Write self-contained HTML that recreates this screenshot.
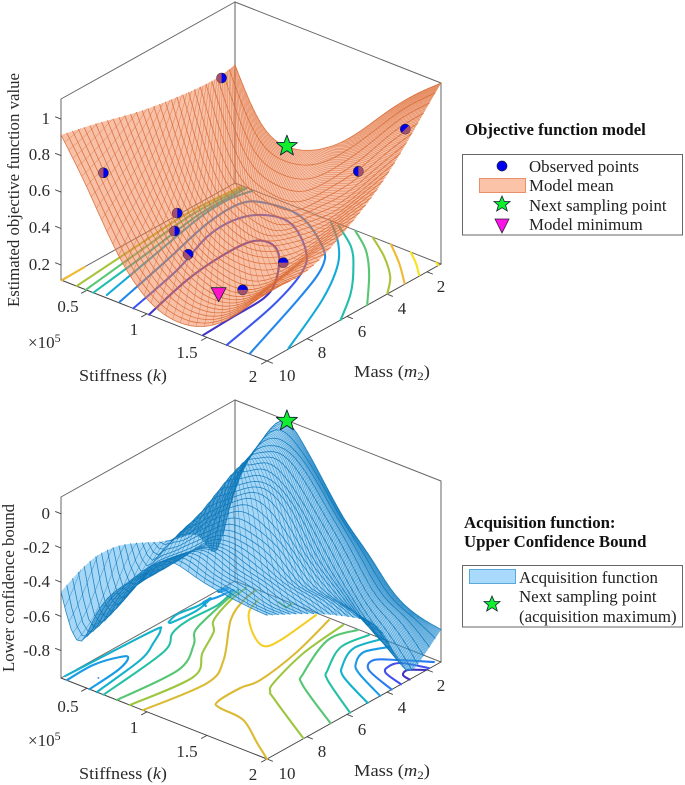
<!DOCTYPE html>
<html lang="en">
<head>
<meta charset="utf-8">
<title>Objective function model and acquisition function</title>
<style>
html,body{margin:0;padding:0;background:#fff;}
svg{display:block;filter:blur(.35px);}
text{font-family:"Liberation Serif",serif;font-size:17px;fill:#2b2b2b;}
.b{font-weight:bold;fill:#111;font-size:16.8px;}
.i{font-style:italic;}
.s{font-size:12px;}
.l{font-size:16.85px;fill:#222;}
</style>
</head>
<body>
<svg id="fig" xmlns="http://www.w3.org/2000/svg" width="685" height="785" viewBox="0 0 685 785">
  <g id="chart-top"></g>
  <g id="chart-low"></g>

  <g>
    <text transform="translate(19,307) rotate(-90)" textLength="234" lengthAdjust="spacingAndGlyphs">Estimated objective function value</text>
    <text x="50" y="124" text-anchor="end">1</text>
    <text x="50" y="160" text-anchor="end">0.8</text>
    <text x="50" y="196" text-anchor="end">0.6</text>
    <text x="50" y="233" text-anchor="end">0.4</text>
    <text x="50" y="270" text-anchor="end">0.2</text>
    <text x="68" y="312" text-anchor="middle">0.5</text>
    <text x="134" y="335" text-anchor="middle">1</text>
    <text x="187" y="358" text-anchor="middle">1.5</text>
    <text x="253" y="382" text-anchor="middle">2</text>
    <text x="28" y="348">×10<tspan class="s" dy="-6">5</tspan></text>
    <text x="79" y="381" textLength="88" lengthAdjust="spacingAndGlyphs">Stiffness (<tspan class="i">k</tspan>)</text>
    <text x="287" y="381" text-anchor="middle">10</text>
    <text x="322" y="358" text-anchor="middle">8</text>
    <text x="362" y="337" text-anchor="middle">6</text>
    <text x="402" y="314" text-anchor="middle">4</text>
    <text x="441" y="292" text-anchor="middle">2</text>
    <text x="354" y="377" textLength="76" lengthAdjust="spacingAndGlyphs">Mass (<tspan class="i">m</tspan><tspan class="s" dy="3">2</tspan><tspan dy="-3">)</tspan></text>
  </g>

  <g>
    <text transform="translate(14,672) rotate(-90)" textLength="168" lengthAdjust="spacingAndGlyphs">Lower confidence bound</text>
    <text x="50" y="519" text-anchor="end">0</text>
    <text x="50" y="553" text-anchor="end">-0.2</text>
    <text x="50" y="587" text-anchor="end">-0.4</text>
    <text x="50" y="622" text-anchor="end">-0.6</text>
    <text x="50" y="656" text-anchor="end">-0.8</text>
    <text x="68" y="712" text-anchor="middle">0.5</text>
    <text x="134" y="733" text-anchor="middle">1</text>
    <text x="187" y="757" text-anchor="middle">1.5</text>
    <text x="253" y="780" text-anchor="middle">2</text>
    <text x="28" y="746">×10<tspan class="s" dy="-6">5</tspan></text>
    <text x="79" y="779" textLength="88" lengthAdjust="spacingAndGlyphs">Stiffness (<tspan class="i">k</tspan>)</text>
    <text x="287" y="779" text-anchor="middle">10</text>
    <text x="322" y="757" text-anchor="middle">8</text>
    <text x="362" y="735" text-anchor="middle">6</text>
    <text x="402" y="713" text-anchor="middle">4</text>
    <text x="441" y="691" text-anchor="middle">2</text>
    <text x="354" y="776" textLength="76" lengthAdjust="spacingAndGlyphs">Mass (<tspan class="i">m</tspan><tspan class="s" dy="3">2</tspan><tspan dy="-3">)</tspan></text>
  </g>

  <g>
    <text class="b" x="465" y="135">Objective function model</text>
    <rect x="462.5" y="154.5" width="220" height="80.5" fill="#fff" stroke="#666" stroke-width="1"/>
    <circle cx="502" cy="166" r="5" fill="#0000f0" stroke="#223" stroke-width=".7"/>
    <rect x="479.5" y="178.5" width="46" height="14" fill="#fbc3a8" stroke="#e8916a" stroke-width="1"/>
    <polygon points="502,196 504.4,201.5 510,201.5 505.6,205.2 507.3,211 502,207.7 496.7,211 498.4,205.2 494,201.5 499.6,201.5" fill="#10ee30" stroke="#123" stroke-width=".8"/>
    <polygon points="495,219 509,219 502,233" fill="#ff12e8" stroke="#223" stroke-width=".8"/>
    <text class="l" x="529" y="172">Observed points</text>
    <text class="l" x="529" y="191">Model mean</text>
    <text class="l" x="529" y="211">Next sampling point</text>
    <text class="l" x="529" y="230">Model minimum</text>
  </g>

  <g>
    <text class="b" x="464" y="528">Acquisition function:</text>
    <text class="b" x="464" y="547">Upper Confidence Bound</text>
    <rect x="462.5" y="565.5" width="220" height="61.5" fill="#fff" stroke="#666" stroke-width="1"/>
    <rect x="469.5" y="569.5" width="46" height="14" fill="#a9d9fb" stroke="#5aa9dc" stroke-width="1"/>
    <polygon points="492,596 494.4,601.5 500,601.5 495.6,605.2 497.3,611 492,607.7 486.7,611 488.4,605.2 484,601.5 489.6,601.5" fill="#10ee30" stroke="#123" stroke-width=".8"/>
    <text class="l" x="519" y="583">Acquisition function</text>
    <text class="l" x="519" y="602">Next sampling point</text>
    <text class="l" x="519" y="622">(acquisition maximum)</text>
  </g>
</svg>

<script>
// ---------- shared tick values ----------
var kTicks = [0.5, 1, 1.5, 2];
var mTicks = [2, 4, 6, 8, 10];

// ---------- objective model (top chart) ----------
var topZTicks = [0.2, 0.4, 0.6, 0.8, 1];
var topKNodes = [0.283, 0.5, 0.75, 1, 1.25, 1.5, 1.75, 2];
var topMNodes = [10, 8, 6, 4.5, 3, 2, 1.3];
var topSurfaceZ = [
  [0.913, 0.68, 0.39, 0.20, 0.14, 0.18, 0.31, 0.51],
  [0.86,  0.58, 0.32, 0.17, 0.13, 0.20, 0.36, 0.49],
  [0.80,  0.47, 0.22, 0.14, 0.14, 0.25, 0.43, 0.60],
  [0.77,  0.39, 0.20, 0.16, 0.23, 0.35, 0.53, 0.72],
  [0.75,  0.37, 0.23, 0.22, 0.34, 0.49, 0.69, 0.89],
  [0.75,  0.42, 0.31, 0.34, 0.48, 0.66, 0.86, 1.02],
  [0.765, 0.50, 0.43, 0.49, 0.62, 0.80, 0.97, 1.11]
];
var topContourLevels = [0.18, 0.27, 0.37, 0.47, 0.47, 0.58, 0.58, 0.68, 0.68, 0.78, 0.78, 0.88, 0.88, 0.98, 1.08];
var topContourLines = [
  [1.017,10, 0.899,7.39, 0.858,5.47, 0.874,4.06, 0.987,3.74, 1.144,4.26, 1.346,5.65, 1.434,6.77, 1.447,8.36, 1.461,9.95],
  [0.885,9.99, 0.763,7.07, 0.618,4.70, 0.603,3.27, 0.706,2.38, 0.91,2.27, 1.216,3.36, 1.389,4.57, 1.541,6.92, 1.663,9.99],
  [0.761,9.92, 0.626,6.76, 0.502,3.99, 0.49,2.25, 0.621,1.70, 0.901,1.71, 1.269,2.84, 1.443,3.89, 1.6,5.92, 1.85,9.95],
  [0.638,9.84, 0.506,6.37, 0.411,3.78, 0.396,2.35, 0.436,1.34],
  [1.097,1.38, 1.317,2.34, 1.516,3.58, 1.735,5.65, 1.994,8.89],
  [0.552,10, 0.47,6.82, 0.381,3.60, 0.386,1.37],
  [1.159,1.39, 1.408,2.25, 1.595,3.25, 1.816,4.71, 2,6.32],
  [0.49,10, 0.414,6.82, 0.348,3.74, 0.366,1.37],
  [1.289,1.32, 1.51,2.12, 1.731,3.28, 1.998,4.98],
  [0.412,10, 0.36,6.83, 0.316,3.88, 0.344,1.37],
  [1.432,1.31, 1.658,2.09, 1.863,3.02, 1.995,3.95],
  [0.29,10, 0.285,8.83],
  [1.583,1.30, 1.79,2.13, 1.992,3.07],
  [1.751,1.31, 1.871,1.78, 1.99,2.33],
  [1.966,1.33, 1.996,1.41]
];
var observedK = [0.45, 0.308, 0.652, 0.70, 0.843, 1.46, 1.34, 1.523, 1.814];
var observedM = [8.88, 2.12, 6.4, 6.82, 7.0, 5.95, 7.26, 2.57, 1.97];
var observedZ = [0.68, 0.75, 0.36, 0.30, 0.22, 0.27, 0.17, 0.58, 0.85];
var observedHiddenSide = [180, 180, 180, 180, 135, 90, 90, 0, 45];
var topNextSample = [0.744, 1.47, 0.45];
var modelMinimum = [1.197, 7.6, 0.13];

// ---------- acquisition function (bottom chart) ----------
var lowZTicks = [-0.8, -0.6, -0.4, -0.2, 0];
var lowKNodes = [0.283, 0.35, 0.45, 0.55, 0.7, 0.85, 1, 1.2, 1.4, 1.6, 1.8, 2];
var lowMNodes = [10, 8.5, 7, 5.5, 4, 3, 2.2, 1.3];
var lowSurfaceZ = [
  [-0.457, -0.62, -0.70, -0.55, -0.36, -0.24, -0.12, -0.03, -0.06, -0.09, -0.11, -0.12],
  [-0.37,  -0.60, -0.64, -0.52, -0.38, -0.26, -0.15, -0.07, -0.12, -0.15, -0.20, -0.21],
  [-0.38,  -0.54, -0.53, -0.44, -0.36, -0.27, -0.17, -0.13, -0.17, -0.23, -0.27, -0.31],
  [-0.46,  -0.50, -0.41, -0.36, -0.26, -0.17, -0.10, -0.12, -0.21, -0.34, -0.38, -0.43],
  [-0.53,  -0.46, -0.36, -0.22, -0.13, -0.06, -0.03, -0.13, -0.33, -0.47, -0.60, -0.65],
  [-0.60,  -0.50, -0.35, -0.15, -0.05,  0.00, -0.05, -0.21, -0.40, -0.60, -0.75, -0.90],
  [-0.72,  -0.48, -0.25, -0.10,  0.00,  0.02, -0.05, -0.23, -0.42, -0.62, -0.72, -0.87],
  [-0.36,  -0.28, -0.15, -0.02,  0.09,  0.00, -0.15, -0.35, -0.50, -0.66, -0.74, -0.77]
];
var lowContourLevels = [-0.59, -0.50, -0.41, -0.50, -0.59, -0.32, -0.23, -0.14, -0.05, -0.23, -0.14, -0.23, -0.32, -0.41, -0.50, -0.59, -0.68, -0.77, -0.86];
var lowContourLines = [
  [0.52,10, 0.492,8.4, 0.436,7.56, 0.388,7.67, 0.326,8.65, 0.33,9.98],
  [0.581,10, 0.513,7.41, 0.428,6.25, 0.348,5.42, 0.317,5.73, 0.286,9.81],
  [0.638,10, 0.556,6.52, 0.434,5.33, 0.398,4.31, 0.409,2.92, 0.357,1.80],
  [0.318,4.83, 0.292,4.22, 0.32,3.39, 0.314,2.70, 0.355,3.60, 0.338,4.75, 0.318,4.83],
  [0.36,3.22, 0.315,3.05, 0.339,2.50, 0.352,1.82],
  [0.749,10, 0.786,7.15, 0.642,5.52, 0.52,4.69, 0.435,3.08, 0.376,1.71],
  [0.857,10, 0.921,7.21, 0.755,5.76, 0.626,4.43, 0.521,3.79, 0.429,2.39, 0.398,1.44],
  [0.965,10, 1.042,7.24, 0.92,5.69, 0.604,3.44, 0.493,2.12, 0.465,1.34],
  [0.561,1.83, 0.631,2.70, 0.826,3.67, 0.993,4.13, 1.024,3.46, 0.977,1.42],
  [0.682,1.50, 0.76,1.61, 0.759,1.3],
  [1.084,1.41, 1.211,3.83, 1.275,5.98, 1.247,6.82, 1.257,8.03, 1.324,8.29, 1.542,8.44, 1.811,9.36, 2,10],
  [1.197,1.38, 1.25,3.67, 1.366,5.87, 1.429,6.41, 1.497,6.66, 1.993,8.15],
  [1.313,1.33, 1.254,2.48, 1.425,4.72, 1.525,5.37, 1.994,6.80],
  [1.411,1.37, 1.379,2.58, 1.516,4.06, 1.603,4.59, 2,5.85],
  [1.511,1.3, 1.452,2.37, 1.546,3.49, 1.656,4.10, 2,4.97],
  [1.614,1.59, 1.536,2.37, 1.593,3.11, 1.694,3.58, 2,4.34],
  [1.966,1.45, 1.772,2.09, 1.655,2.58, 1.717,3.21, 2,3.77],
  [1.994,1.87, 1.813,2.18, 1.784,2.66, 1.827,3.02, 2,3.30],
  [1.997,2.03, 1.908,2.41, 1.928,2.77, 2,2.87]
];
var lowSpotLine = [0.292, 2.16, 0.314, 1.89];
var lowSpotLevel = -0.59;
var lowMinimumDot = [0.464, 9.23];
var lowNextSample = [0.744, 1.47, 0.114];

// ---------- colormap stops (parula style) ----------
var parula = [[62,38,168],[70,70,235],[40,125,240],[20,165,225],[20,188,185],[72,198,125],[160,198,60],[238,182,50],[249,225,30]];

var NS = 'http://www.w3.org/2000/svg';

function colorAt(t) {
  t = Math.max(0, Math.min(1, t)) * (parula.length - 1);
  var i = Math.min(parula.length - 2, Math.floor(t)), f = t - i, a = parula[i], b = parula[i + 1];
  return 'rgb(' + Math.round(a[0] + (b[0] - a[0]) * f) + ',' + Math.round(a[1] + (b[1] - a[1]) * f) + ',' + Math.round(a[2] + (b[2] - a[2]) * f) + ')';
}

function makeAxes(originY, zMin, zMax) {
  return {
    ky: 81, kx: 206, mx: 174, my: -97, ox: 61, oy: originY, h: 181, zMin: zMin, zMax: zMax,
    x: function (k, m) { return this.ox + (k - 0.283) / 1.717 * this.kx + (10 - m) / 8.7 * this.mx; },
    y: function (k, m, z) {
      return this.oy + (k - 0.283) / 1.717 * this.ky + (10 - m) / 8.7 * this.my - (z - this.zMin) / (this.zMax - this.zMin) * this.h;
    }
  };
}

// natural cubic spline through (xs, ys); xs ascending
function spline(xs, ys, x) {
  var n = xs.length, y2 = new Array(n), u = new Array(n), i;
  y2[0] = 0; u[0] = 0;
  for (i = 1; i < n - 1; i++) {
    var sig = (xs[i] - xs[i - 1]) / (xs[i + 1] - xs[i - 1]);
    var p = sig * y2[i - 1] + 2;
    y2[i] = (sig - 1) / p;
    u[i] = (ys[i + 1] - ys[i]) / (xs[i + 1] - xs[i]) - (ys[i] - ys[i - 1]) / (xs[i] - xs[i - 1]);
    u[i] = (6 * u[i] / (xs[i + 1] - xs[i - 1]) - sig * u[i - 1]) / p;
  }
  y2[n - 1] = 0;
  for (i = n - 2; i >= 0; i--) y2[i] = y2[i] * y2[i + 1] + u[i];
  var lo = 0;
  while (lo < n - 2 && x > xs[lo + 1]) lo++;
  var h = xs[lo + 1] - xs[lo], a = (xs[lo + 1] - x) / h, b = (x - xs[lo]) / h;
  return a * ys[lo] + b * ys[lo + 1] + ((a * a * a - a) * y2[lo] + (b * b * b - b) * y2[lo + 1]) * h * h / 6;
}

function surfaceAt(rows, kNodes, mNodes, k, m) {
  var xs = [], ys = [];
  for (var j = mNodes.length - 1; j >= 0; j--) {
    xs.push(mNodes[j]);
    ys.push(spline(kNodes, rows[j], k));
  }
  return spline(xs, ys, m);
}

function smoothPath(pts) {
  if (pts.length < 3) {
    return 'M' + pts.map(function (p) { return p[0].toFixed(1) + ' ' + p[1].toFixed(1); }).join('L');
  }
  var d = 'M' + pts[0][0].toFixed(1) + ' ' + pts[0][1].toFixed(1);
  for (var i = 0; i < pts.length - 1; i++) {
    var p0 = pts[Math.max(0, i - 1)], p1 = pts[i], p2 = pts[i + 1], p3 = pts[Math.min(pts.length - 1, i + 2)];
    d += 'C' + (p1[0] + (p2[0] - p0[0]) / 6).toFixed(1) + ' ' + (p1[1] + (p2[1] - p0[1]) / 6).toFixed(1) + ' ' +
      (p2[0] - (p3[0] - p1[0]) / 6).toFixed(1) + ' ' + (p2[1] - (p3[1] - p1[1]) / 6).toFixed(1) + ' ' +
      p2[0].toFixed(1) + ' ' + p2[1].toFixed(1);
  }
  return d;
}

function addPath(parent, d, stroke, width, fill, opacity) {
  var el = document.createElementNS(NS, 'path');
  el.setAttribute('d', d);
  el.setAttribute('stroke', stroke);
  el.setAttribute('stroke-width', width);
  el.setAttribute('fill', fill);
  if (opacity !== undefined) el.setAttribute('opacity', opacity);
  el.setAttribute('stroke-linecap', 'round');
  el.setAttribute('stroke-linejoin', 'round');
  parent.appendChild(el);
  return el;
}

function drawBackBox(g, ax) {
  var L = [ax.ox, ax.oy], F = [ax.ox + ax.kx, ax.oy + ax.ky], R = [F[0] + ax.mx, F[1] + ax.my];
  var B = [ax.ox + ax.mx, ax.oy + ax.my], h = ax.h;
  var back = addPath(g, 'M' + B + 'L' + B[0] + ' ' + (B[1] - h), '#9a9a9a', 1.6, 'none');
  
  
  var edges = addPath(g, 'M' + L + 'L' + B + 'L' + R + 'M' + L[0] + ' ' + L[1] + 'L' + L[0] + ' ' + (L[1] - h) + 'L' + B[0] + ' ' + (B[1] - h) + 'L' + R[0] + ' ' + (R[1] - h) + 'L' + R, '#666', 1, 'none');
  
  
  var floor = addPath(g, 'M' + L + 'L' + F + 'L' + R, '#444', 1, 'none');
  
  
}

function drawTicks(g, ax, zTicks) {
  var d = '';
  kTicks.forEach(function (k) {
    var x = ax.x(k, 10), y = ax.y(k, 10, ax.zMin);
    d += 'M' + x.toFixed(1) + ' ' + y.toFixed(1) + 'L' + (x - 5.5).toFixed(1) + ' ' + (y + 3).toFixed(1);
  });
  mTicks.forEach(function (m) {
    var x = ax.x(2, m), y = ax.y(2, m, ax.zMin);
    d += 'M' + x.toFixed(1) + ' ' + y.toFixed(1) + 'L' + (x + 5.5).toFixed(1) + ' ' + (y + 2.2).toFixed(1);
  });
  zTicks.forEach(function (z) {
    var x = ax.x(0.283, 10), y = ax.y(0.283, 10, z);
    d += 'M' + x + ' ' + y.toFixed(1) + 'L' + (x - 5.5) + ' ' + (y - 2.2).toFixed(1);
  });
  var ticks = addPath(g, d, '#444', 0.9, 'none');
  
  
}

function drawContours(g, ax, levels, lines, colorRange, name) {
  lines.forEach(function (flat, idx) {
    var pts = [];
    for (var i = 0; i < flat.length; i += 2) {
      pts.push([ax.x(flat[i], flat[i + 1]), ax.y(flat[i], flat[i + 1], ax.zMin)]);
    }
    var c = colorAt((levels[idx] - colorRange[0]) / (colorRange[1] - colorRange[0]));
    var el = addPath(g, smoothPath(pts), c, 2.1, 'none');
    
    
  });
}

function pt(p) { return p[0].toFixed(1) + ' ' + p[1].toFixed(1); }

function drawSurface(g, ax, rows, kNodes, mNodes, fill, fillOpacity, line, lineOpacity, underOpacity, name) {
  var kMin = 0.283, kMax = 2, mMin = 1.3, mMax = 10;
  function project(k, m) {
    return [ax.x(k, m), ax.y(k, m, surfaceAt(rows, kNodes, mNodes, k, m))];
  }
  // filled body, with the underside (faces seen from below) collected separately
  var N = 48, area = '', under = '', grid = [], i, j, c;
  for (j = 0; j <= N; j++) {
    grid.push([]);
    for (i = 0; i <= N; i++) {
      grid[j].push(project(kMin + (kMax - kMin) * i / N, mMin * Math.pow(mMax / mMin, j / N)));
    }
  }
  for (j = 0; j < N; j++) {
    for (i = 0; i < N; i++) {
      var q = [grid[j][i], grid[j][i + 1], grid[j + 1][i + 1], grid[j + 1][i]], s = 0;
      for (c = 0; c < 4; c++) {
        var n = q[(c + 1) % 4];
        s += q[c][0] * n[1] - n[0] * q[c][1];
      }
      var isUnder = s < 0;
      if (isUnder) q.reverse();
      var sub = 'M' + pt(q[0]) + 'L' + pt(q[1]) + 'L' + pt(q[2]) + 'L' + pt(q[3]) + 'Z';
      area += sub;
      if (isUnder) under += sub;
    }
  }
  var f = addPath(g, area, 'none', 0, fill, fillOpacity);
  
  
  if (under && underOpacity > 0) {
    var uf = addPath(g, under, 'none', 0, line, underOpacity);
    
    
  }

  // lines of constant mass
  var massPath = '', M = 30;
  for (j = 0; j <= M; j++) {
    var mv = mMin + (mMax - mMin) * j / M;
    for (i = 0; i <= 40; i++) {
      massPath += (i ? 'L' : 'M') + pt(project(kMin + (kMax - kMin) * i / 40, mv));
    }
  }
  var mp = addPath(g, massPath, line, 0.8, 'none', lineOpacity);
  
  

  // fan of lines of constant stiffness-to-mass frequency
  var fanPath = '', W = 119, wMin = Math.sqrt(kMin / mMax), wMax = Math.sqrt(kMax / mMin);
  for (var w = 0; w <= W; w++) {
    var om = wMin + (wMax - wMin) * w / W, r = om * om;
    var m1 = Math.max(mMin, kMin / r), m2 = Math.min(mMax, kMax / r);
    if (m2 <= m1) continue;
    for (i = 0; i <= 24; i++) {
      var mf = m1 + (m2 - m1) * i / 24;
      fanPath += (i ? 'L' : 'M') + pt(project(r * mf, mf));
    }
  }
  var fp = addPath(g, fanPath, line, 0.45, 'none', lineOpacity);
  
  
}

function starPath(cx, cy, R) {
  var d = '';
  for (var i = 0; i < 10; i++) {
    var r = i % 2 ? R * 0.42 : R, a = -Math.PI / 2 + i * Math.PI / 5;
    d += (i ? 'L' : 'M') + (cx + r * Math.cos(a)).toFixed(1) + ' ' + (cy + r * Math.sin(a)).toFixed(1);
  }
  return d + 'Z';
}

function drawStar(g, ax, s, name) {
  var el = addPath(g, starPath(ax.x(s[0], s[1]), ax.y(s[0], s[1], s[2]), 11), '#123', 0.9, '#10ee30');
  
  
}

function drawObserved(g, ax) {
  observedK.forEach(function (k, i) {
    var m = observedM[i], z = observedZ[i], x = ax.x(k, m), y = ax.y(k, m, z), r = 5;
    var dot = addPath(g, 'M' + (x - r) + ' ' + y + 'A' + r + ' ' + r + ' 0 1 1 ' + (x + r) + ' ' + y + 'A' + r + ' ' + r + ' 0 1 1 ' + (x - r) + ' ' + y + 'Z', '#223', 0.6, '#0000f0');
    
    
    var a = observedHiddenSide[i] * Math.PI / 180, px = -Math.sin(a) * r, py = Math.cos(a) * r;
    var half = addPath(g, 'M' + (x + px) + ' ' + (y + py) + 'A' + r + ' ' + r + ' 0 0 0 ' + (x - px) + ' ' + (y - py) + 'Z', 'none', 0, '#a5506a');
    
    
  });
}

var top3d = makeAxes(280, 0.118, 1.11);
var low3d = makeAxes(678, -0.96, 0.098);
var gTop = document.getElementById('chart-top');
var gLow = document.getElementById('chart-low');

drawBackBox(gTop, top3d);
drawTicks(gTop, top3d, topZTicks);
drawContours(gTop, top3d, topContourLevels, topContourLines, [0.13, 0.98], 'floor-contour');
drawSurface(gTop, top3d, topSurfaceZ, topKNodes, topMNodes, '#f08250', 0.5, '#d8662e', 0.85, 0, 'model-mean-surface');
drawObserved(gTop, top3d);
drawStar(gTop, top3d, topNextSample, 'next-sampling-point');
var tx = top3d.x(modelMinimum[0], modelMinimum[1]), ty = top3d.y(modelMinimum[0], modelMinimum[1], modelMinimum[2]);
var minTri = addPath(gTop, 'M' + (tx - 7.5) + ' ' + (ty - 6.5) + 'L' + (tx + 7.5) + ' ' + (ty - 6.5) + 'L' + tx + ' ' + (ty + 7.5) + 'Z', '#223', 0.8, '#ff12c8');



drawBackBox(gLow, low3d);
drawTicks(gLow, low3d, lowZTicks);
drawContours(gLow, low3d, lowContourLevels, lowContourLines, [-0.9, 0], 'floor-contour');
var spot = addPath(gLow, smoothPath([[low3d.x(lowSpotLine[0], lowSpotLine[1]), low3d.y(lowSpotLine[0], lowSpotLine[1], low3d.zMin)], [low3d.x(lowSpotLine[2], lowSpotLine[3]), low3d.y(lowSpotLine[2], lowSpotLine[3], low3d.zMin)]]), colorAt((lowSpotLevel + 0.9) / 0.9), 4, 'none');


var minDot = addPath(gLow, smoothPath([[low3d.x(lowMinimumDot[0], lowMinimumDot[1]), low3d.y(lowMinimumDot[0], lowMinimumDot[1], low3d.zMin)], [low3d.x(lowMinimumDot[0], lowMinimumDot[1]) + 0.5, low3d.y(lowMinimumDot[0], lowMinimumDot[1], low3d.zMin)]]), colorAt(0.24), 1.4, 'none');


drawSurface(gLow, low3d, lowSurfaceZ, lowKNodes, lowMNodes, '#50aff0', 0.5, '#0a76b8', 0.85, 0.55, 'acquisition-surface');
drawStar(gLow, low3d, lowNextSample, 'next-sampling-point');
</script>
</body>
</html>
